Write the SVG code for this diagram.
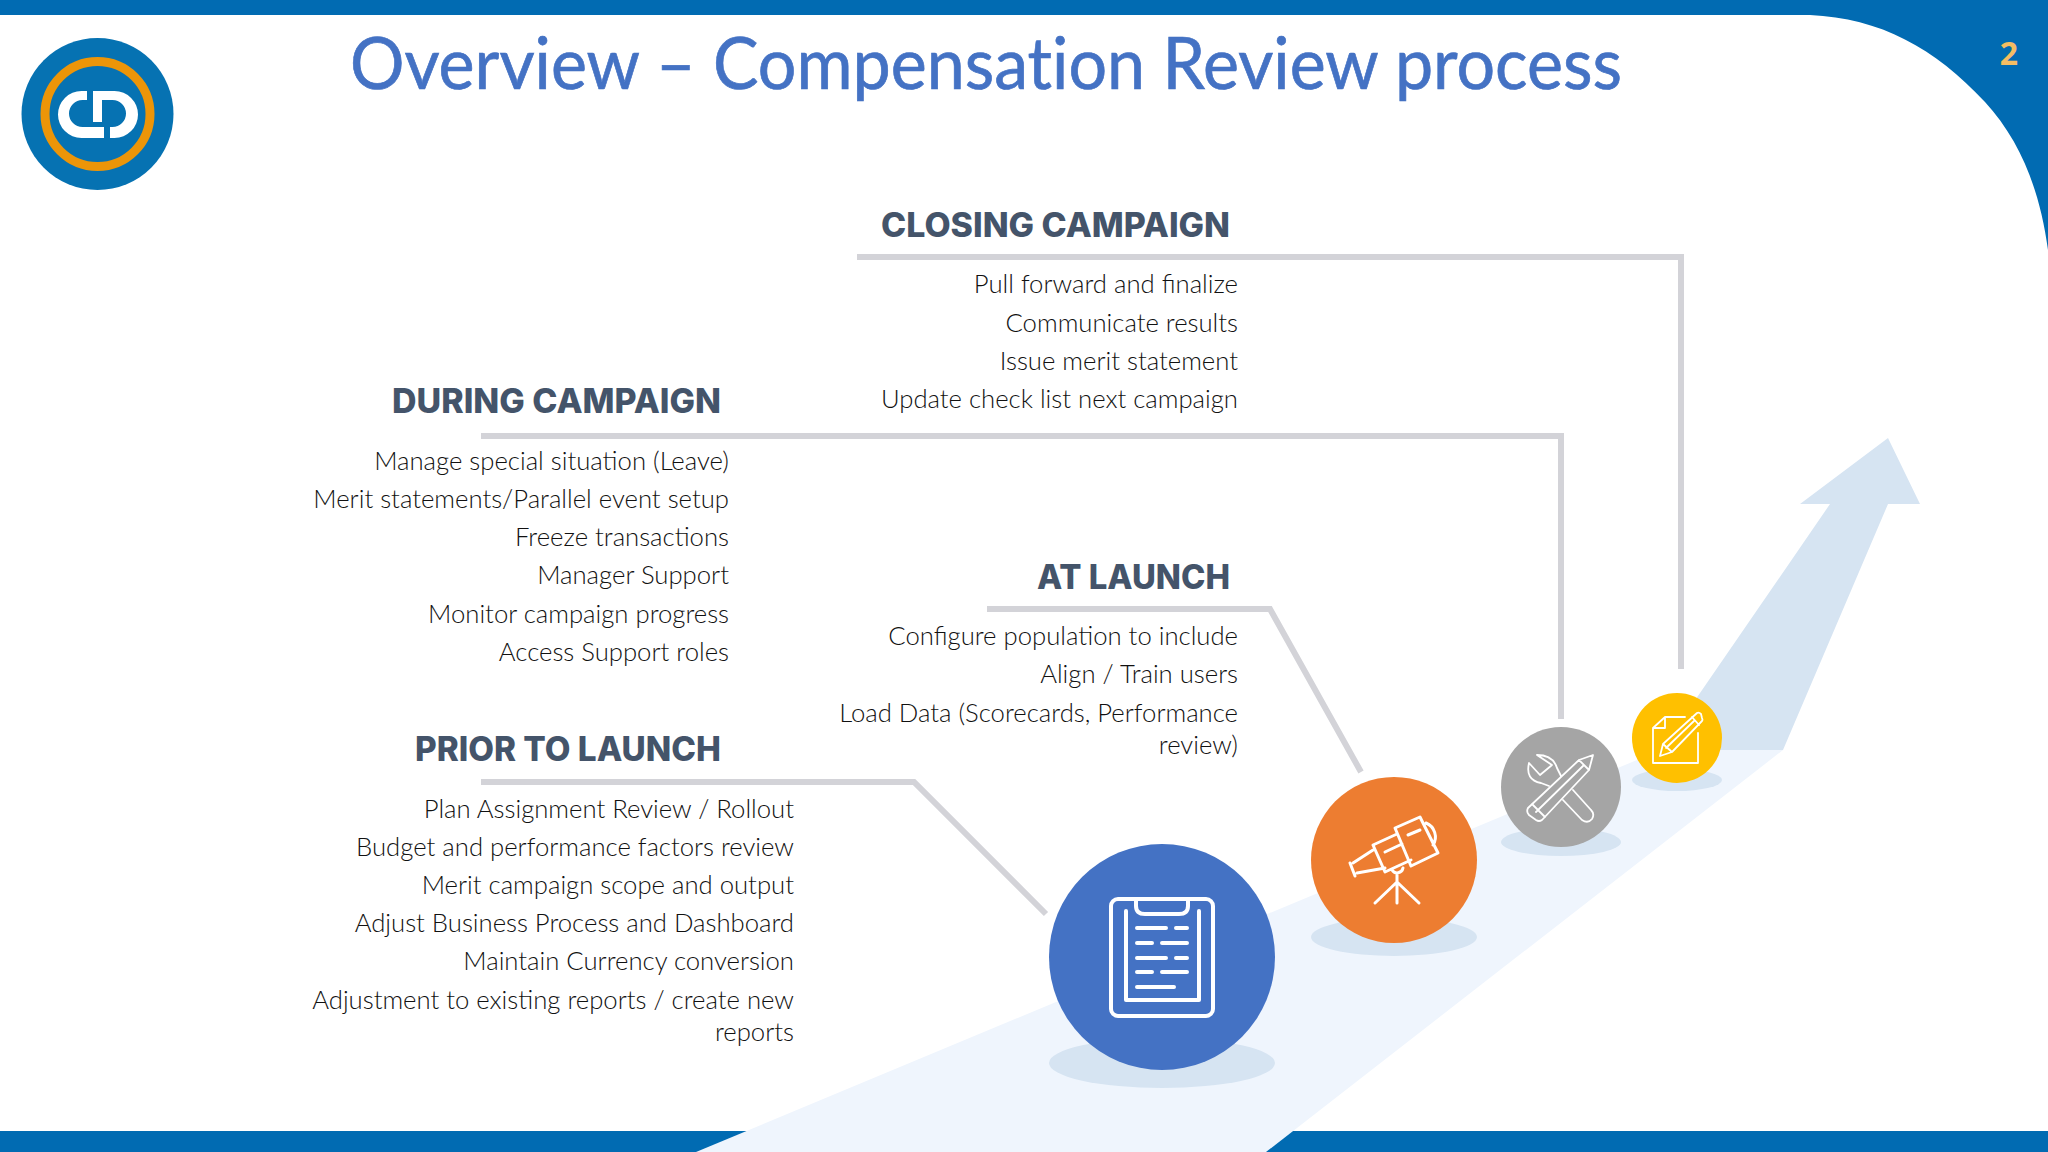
<svg xmlns="http://www.w3.org/2000/svg" width="2048" height="1152" viewBox="0 0 2048 1152">
<style>
.h{font-family:"Inter","Liberation Sans",sans-serif;font-weight:800;font-size:33.500px;fill:#44546a;text-anchor:end}
.b{font-family:"Lato","Liberation Sans",sans-serif;font-weight:300;font-size:25.700px;fill:#111;text-anchor:end}
.c{fill:none;stroke:#d3d3d8;stroke-width:6}
.i{fill:none;stroke:#fff;stroke-width:4;stroke-linecap:round;stroke-linejoin:round}
.t{fill:none;stroke:#fff;stroke-width:3;stroke-linecap:round;stroke-linejoin:round}
.n{fill:none;stroke:#fff;stroke-width:1.800;stroke-linecap:round;stroke-linejoin:round}
.s{fill:#d6e4f2}
</style>
<rect width="2048" height="1152" fill="#fff"/>
<g id="frame">
<rect width="2048" height="15" fill="#016bb2"/>
<path d="M1810 15H2048V250C2040 190 2020 140 1985 102C1935 48 1880 18 1810 15Z" fill="#016bb2"/>
<rect y="1131" width="2048" height="21" fill="#016bb2"/>
</g>
<g id="road">
<path d="M1661 750L1700 693L1795 555L1830 504H1800L1888 438L1920 504H1888L1783 750Z" class="s"/>
<path d="M696 1152L1661 750H1783L1266 1152Z" fill="#eff5fd"/>
</g>
<g id="logo">
<circle cx="97.500" cy="114" r="76" fill="#0672b2"/>
<circle cx="97.500" cy="114" r="52.500" fill="none" stroke="#ec9508" stroke-width="9"/>
<path d="M87 91H81.500A23.500 23.500 0 0 0 81.500 138H104V127H82.500A13.500 13.500 0 0 1 82.500 100H87Z" fill="#fff"/>
<path d="M93 91H114.500A23.500 23.500 0 0 1 114.500 138H110V127H112.500A13.500 13.500 0 0 0 112.500 100H102V122H93Z" fill="#fff"/>
</g>
<text id="title" x="986" y="89" font-family="'Lato','Open Sans',sans-serif" font-size="72" fill="#4472c4" stroke="#4472c4" stroke-width="0.700" style="font-variant-ligatures:none" text-anchor="middle" textLength="1272" lengthAdjust="spacingAndGlyphs">Overview – Compensation Review process</text>
<text id="page" x="2009" y="65" font-family="'Open Sans','Noto Sans',sans-serif" font-weight="700" font-size="32" fill="#f4bd63" text-anchor="middle">2</text>
<g id="connectors">
<path class="c" d="M857 257H1681V669"/>
<path class="c" d="M481 436H1561V719"/>
<path class="c" d="M987 609H1270L1361 772"/>
<path class="c" d="M481 782H914L1046 914"/>
</g>
<g id="closing">
<text class="h" x="1230" y="237" textLength="349" lengthAdjust="spacingAndGlyphs">CLOSING CAMPAIGN</text>
<text class="b" x="1238" y="293">Pull forward and finalize</text>
<text class="b" x="1238" y="332">Communicate results</text>
<text class="b" x="1238" y="370">Issue merit statement</text>
<text class="b" x="1238" y="408">Update check list next campaign</text>
</g>
<g id="during">
<text class="h" x="721" y="413" textLength="329" lengthAdjust="spacingAndGlyphs">DURING CAMPAIGN</text>
<text class="b" x="729" y="470">Manage special situation (Leave)</text>
<text class="b" x="729" y="508">Merit statements/Parallel event setup</text>
<text class="b" x="729" y="546">Freeze transactions</text>
<text class="b" x="729" y="584">Manager Support</text>
<text class="b" x="729" y="623">Monitor campaign progress</text>
<text class="b" x="729" y="661">Access Support roles</text>
</g>
<g id="launch">
<text class="h" x="1230" y="589" textLength="193" lengthAdjust="spacingAndGlyphs">AT LAUNCH</text>
<text class="b" x="1238" y="645">Configure population to include</text>
<text class="b" x="1238" y="683">Align / Train users</text>
<text class="b" x="1238" y="722">Load Data (Scorecards, Performance</text>
<text class="b" x="1238" y="754">review)</text>
</g>
<g id="prior">
<text class="h" x="721" y="761" textLength="306" lengthAdjust="spacingAndGlyphs">PRIOR TO LAUNCH</text>
<text class="b" x="794" y="818">Plan Assignment Review / Rollout</text>
<text class="b" x="794" y="856">Budget and performance factors review</text>
<text class="b" x="794" y="894">Merit campaign scope and output</text>
<text class="b" x="794" y="932">Adjust Business Process and Dashboard</text>
<text class="b" x="794" y="970">Maintain Currency conversion</text>
<text class="b" x="794" y="1009">Adjustment to existing reports / create new</text>
<text class="b" x="794" y="1041">reports</text>
</g>
<g id="node-clipboard">
<ellipse class="s" cx="1162" cy="1063" rx="113" ry="25"/>
<circle cx="1162" cy="957" r="113" fill="#4472c4"/>
<rect class="i" x="1111" y="899" width="102" height="117" rx="7"/>
<path class="i" d="M1136 899V906Q1136 914 1145 914H1179Q1188 914 1188 906V899M1126 911V1000H1199V911M1137 928H1166M1176 928H1187M1137 943H1152M1162 943H1187M1137 958H1166M1176 958H1187M1137 972H1152M1162 972H1187M1137 987H1174"/>
</g>
<g id="node-telescope">
<ellipse class="s" cx="1394" cy="937" rx="83" ry="19"/>
<circle cx="1394" cy="860" r="83" fill="#ed7d31"/>
<path class="t" d="M1395 828L1420 817L1438 853L1411 866ZM1373 845L1397 834M1373 845L1385 872L1411 860M1373 850L1353 863M1385 868L1357 873M1350 863L1355 876M1426 823A15 15 0 0 1 1433 845M1392 870A6 6 0 0 0 1403 868M1397 875V903M1397 882L1375 903M1397 882L1419 903M1385 852L1402 844M1408 835L1420 830"/>
</g>
<g id="node-tools">
<ellipse class="s" cx="1561" cy="842" rx="60" ry="14"/>
<circle cx="1561" cy="787" r="60" fill="#a5a5a5"/>
<path class="n" d="M1593 755L1579 760L1528 808Q1526 812 1529 815L1536 820Q1539 822 1542 820L1589 770ZM1579 760L1589 770M1536 812L1584 765M1532 804L1545 817"/>
<path class="n" d="M1563 800L1582 820Q1588 824 1592 819Q1595 814 1591 810L1573 790M1537 755Q1553 755 1557 768L1561 776M1549 786L1541 783Q1525 780 1529 763L1540 775L1552 765L1537 755"/>
</g>
<g id="node-note">
<ellipse class="s" cx="1677" cy="780" rx="45" ry="11"/>
<circle cx="1677" cy="738" r="45" fill="#ffc000"/>
<path class="n" d="M1685 717H1665L1653 728V763H1698V733M1653 728H1665V717"/>
<path class="n" d="M1660 756L1663 744L1697 713Q1699 712 1701 714L1702 718Q1703 720 1702 721L1672 752ZM1692 717L1699 725M1666 748L1694 721M1663 744L1672 752"/>
</g>
</svg>
